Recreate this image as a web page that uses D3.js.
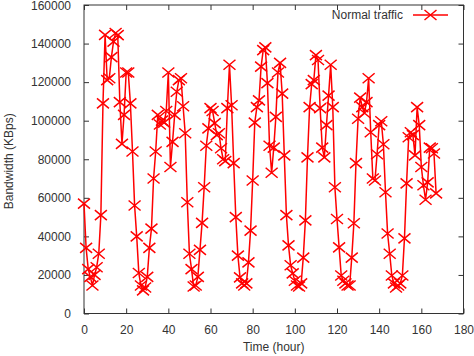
<!DOCTYPE html>
<html>
<head>
<meta charset="utf-8">
<script src="https://cdn.jsdelivr.net/npm/d3@7/dist/d3.min.js"></script>
<style>
  html, body { margin: 0; padding: 0; background: #fff; }
  svg { display: block; }
  text { font-family: "Liberation Sans", Arial, Helvetica, sans-serif; fill: #333; }
</style>
</head>
<body>
<svg id="chart" width="474" height="356"></svg>
<script>
// ---- data (hourly bandwidth samples, KBps) ----
const seriesName = "Normal traffic";
const bandwidth = [
  57000, 34000, 23000, 19000, 14500, 20000, 24000, 31000, 51000, 109000,
  144500, 121000, 122000, 133000, 141000, 145500, 144400, 109600, 88000, 103000,
  125000, 125000, 109000, 84000, 56000, 40000, 21000, 14500, 12000, 13500,
  19000, 34000, 44000, 70000, 84000, 103000, 98000, 100000, 99000, 105000,
  125000, 76000, 89000, 103000, 115000, 121000, 122000, 107500, 93500, 57700,
  31000, 23000, 14000, 14500, 19000, 33000, 47000, 65500, 87000, 96000,
  106500, 105000, 98700, 92500, 93500, 85700, 80000, 79000, 106500, 129000,
  108000, 78000, 50000, 30000, 18700, 15600, 14500, 15600, 26500, 43000,
  69000, 99000, 107000, 110500, 128000, 136600, 138000, 119500, 87000, 73000,
  86000, 102000, 125000, 130000, 114000, 82000, 51000, 35300, 25000, 20800,
  17000, 14500, 14000, 15600, 29000, 48300, 81000, 107000, 119000, 121000,
  134000, 131500, 106500, 86000, 81000, 97700, 113000, 129000, 107000, 65500,
  49000, 34300, 19700, 17000, 15600, 14500, 14500, 29000, 46800, 78000,
  101000, 112000, 107000, 104000, 109600, 122000, 94000, 70000, 69000, 82600,
  97700, 99700, 87800, 62900, 41500, 31000, 19700, 15600, 13500, 14500,
  15600, 19700, 39000, 67500, 91400, 94000, 92500, 82000, 107000, 97700,
  76000, 66500, 59000, 68000, 86000, 85700, 83000, 62300
];
const hours = bandwidth.map((d, i) => i);
const xTicks = [0, 20, 40, 60, 80, 100, 120, 140, 160, 180];
const yTicks = [0, 20000, 40000, 60000, 80000, 100000, 120000, 140000, 160000];
const xTitle = "Time (hour)";
const yTitle = "Bandwidth (KBps)";

// ---- layout ----
const L = 84, R = 463.5, T = 5, B = 313.5;
const red = "#ff0000";
const frame = "#333";
const svg = d3.select("#chart");

const x = d3.scaleLinear().domain([0, 180]).range([L, R]);
const y = d3.scaleLinear().domain([0, 160000]).range([B, T]);

// frame
svg.append("rect").attr("x", L).attr("y", T).attr("width", R - L).attr("height", B - T)
  .attr("fill", "none").attr("stroke", frame).attr("stroke-width", 1);

// axes with inward ticks (mirrored like gnuplot)
const tickLen = 5;
const gx = svg.append("g").attr("transform", `translate(0,${B})`)
  .call(d3.axisBottom(x).tickValues(xTicks).tickSizeInner(-tickLen).tickSizeOuter(0).tickPadding(7 + tickLen));
const gxTop = svg.append("g").attr("transform", `translate(0,${T})`)
  .call(d3.axisTop(x).tickValues(xTicks).tickSizeInner(-tickLen).tickSizeOuter(0).tickFormat(""));
const gy = svg.append("g").attr("transform", `translate(${L},0)`)
  .call(d3.axisLeft(y).tickValues(yTicks).tickSizeInner(-tickLen).tickSizeOuter(0).tickPadding(8 + tickLen).tickFormat(d3.format("d")));
const gyR = svg.append("g").attr("transform", `translate(${R},0)`)
  .call(d3.axisRight(y).tickValues(yTicks).tickSizeInner(-tickLen).tickSizeOuter(0).tickFormat(""));

[gx, gxTop, gy, gyR].forEach(g => {
  g.select(".domain").remove();
  g.selectAll(".tick line").attr("stroke", frame);
  g.selectAll(".tick text").attr("font-size", 12).attr("fill", "#333")
    .style("font-family", '"Liberation Sans", Arial, sans-serif');
});
gx.selectAll(".tick text").attr("dy", "0.71em");
// keep the topmost label inside the canvas
gy.selectAll(".tick text").filter(d => d === 160000).attr("dy", "0.78em").attr("y", -5);

// axis titles
svg.append("text").attr("x", (L + R) / 2).attr("y", 351).attr("text-anchor", "middle")
  .attr("font-size", 12).text(xTitle);
svg.append("text").attr("transform", `translate(13,${(T + B) / 2 + 2}) rotate(-90)`)
  .attr("text-anchor", "middle").attr("font-size", 12).text(yTitle);

// line
const data = hours.map((h, i) => ({ h, v: bandwidth[i] }));
const line = d3.line().x(d => x(d.h)).y(d => y(d.v));
svg.append("path").datum(data).attr("d", line)
  .attr("fill", "none").attr("stroke", red).attr("stroke-width", 1.5).attr("stroke-linejoin", "round");

// X markers
const mx = 6, my = 5;
const crossPath = (cx, cy) => `M${cx - mx},${cy - my}L${cx + mx},${cy + my}M${cx - mx},${cy + my}L${cx + mx},${cy - my}`;
svg.append("g").selectAll("path").data(data).join("path")
  .attr("d", d => crossPath(x(d.h), y(d.v)))
  .attr("stroke", red).attr("stroke-width", 1.5).attr("fill", "none");

// legend
const lg = svg.append("g");
lg.append("text").attr("x", 403).attr("y", 19).attr("text-anchor", "end")
  .attr("font-size", 12).text(seriesName);
lg.append("line").attr("x1", 413).attr("x2", 448).attr("y1", 15).attr("y2", 15)
  .attr("stroke", red).attr("stroke-width", 1.5);
lg.append("path").attr("d", crossPath(430.5, 15)).attr("stroke", red).attr("stroke-width", 1.5);
</script>
</body>
</html>
